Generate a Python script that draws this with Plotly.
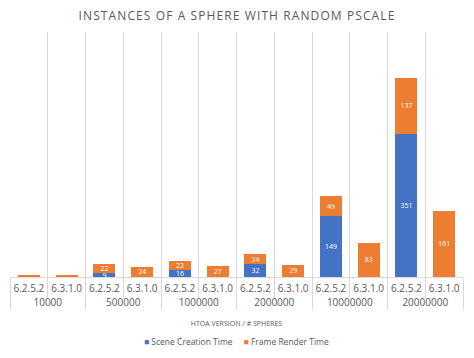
import plotly.graph_objects as go

groups = ["10000", "10000", "500000", "500000", "1000000", "1000000",
          "2000000", "2000000", "10000000", "10000000", "20000000", "20000000"]
versions = ["6.2.5.2", "6.3.1.0"] * 6
scene_creation = [0, 0, 9, 1, 16, 1, 32, 1, 149, 1, 351, 1]
frame_render = [5, 5, 22, 24, 22, 27, 24, 29, 49, 83, 137, 161]
scene_labels = ["", "", "9", "1", "16", "1", "32", "1", "149", "1", "351", "1"]
frame_labels = ["", "", "22", "24", "22", "27", "24", "29", "49", "83", "137", "161"]
series_names = ["Scene Creation Time", "Frame Render Time"]
series_colors = ["#4472C4", "#ED7D31"]

FONT = "Open Sans"
GRAY = "#595959"

fig = go.Figure()
for name, vals, labels, color in zip(series_names, [scene_creation, frame_render],
                                     [scene_labels, frame_labels], series_colors):
    fig.add_trace(go.Bar(
        name=name, x=[groups, versions], y=vals,
        marker=dict(color=color, line=dict(width=0)),
        text=labels, textposition="inside", insidetextanchor="middle",
        textangle=0, constraintext="none", cliponaxis=True,
        textfont=dict(color="white", size=7, family=FONT),
        showlegend=False,
    ))

# legend drawn as a single centred line of text with coloured squares
legend_text = "&nbsp;&nbsp;&nbsp;&nbsp;&nbsp;".join(
    f'<span style="color:{c}">■</span> {n}' for n, c in zip(series_names, series_colors)
)
fig.add_annotation(
    text=legend_text, xref="paper", yref="paper", x=0.5, y=-0.262,
    xanchor="center", yanchor="middle", showarrow=False,
    font=dict(size=8.5, color=GRAY, family=FONT),
)

fig.update_layout(
    barmode="stack",
    bargap=0.42,
    width=474, height=358,
    margin=dict(l=10, r=11, t=32, b=81),
    paper_bgcolor="white", plot_bgcolor="white",
    font=dict(family=FONT, color=GRAY),
    title=dict(
        text='<span style="letter-spacing:1.1px">INSTANCES OF A SPHERE WITH RANDOM PSCALE</span>',
        x=0.5, xanchor="center", y=0.955, yanchor="middle",
        font=dict(size=12, color=GRAY, family=FONT),
    ),
    showlegend=False,
)
fig.update_xaxes(
    type="multicategory",
    tickangle=0,
    showgrid=True, gridcolor="#D9D9D9", gridwidth=1,
    tickson="boundaries",
    showline=True, linecolor="#D9D9D9",
    ticks="outside", ticklen=20, tickcolor="#D9D9D9",
    ticklabelstandoff=2,
    showdividers=True, dividercolor="#D9D9D9", dividerwidth=1,
    tickfont=dict(size=10, color=GRAY, family=FONT),
    title=dict(text="HTOA VERSION / # SPHERES", font=dict(size=7, color=GRAY, family=FONT), standoff=13),
)
fig.update_yaxes(range=[0, 600], visible=False, showgrid=False)

fig.write_html("out.html", config={"displayModeBar": False},
               post_script="document.body.style.margin='0';")
